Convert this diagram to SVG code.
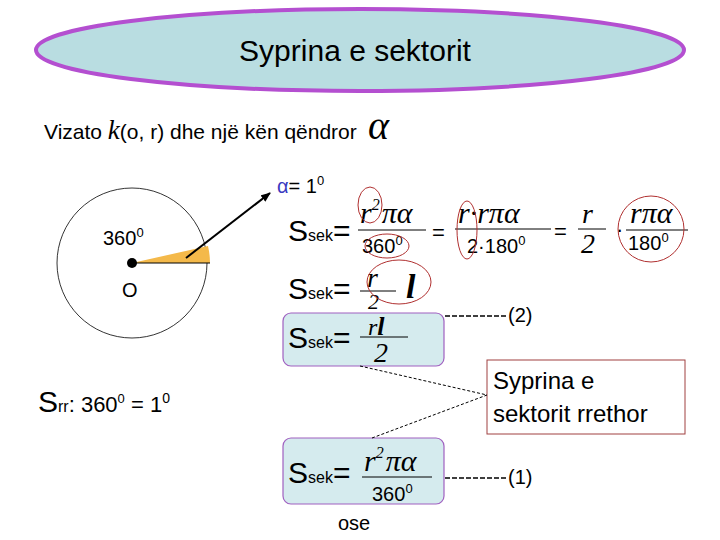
<svg xmlns="http://www.w3.org/2000/svg" width="720" height="540" viewBox="0 0 720 540">
<defs>
<style>
.s{font-family:"Liberation Sans",Arial,sans-serif;fill:#000}
.m{font-family:"Liberation Serif","Times New Roman",serif;font-style:italic;fill:#000}
.red{fill:none;stroke:#b03030;stroke-width:1}
.fl{stroke:#000;stroke-width:1}
.dash{stroke:#000;stroke-width:1;stroke-dasharray:3,2;fill:none}
.dl{stroke:#000;stroke-width:1.5;stroke-dasharray:5,2}
.box{fill:#d5ebee;stroke:#a060c0;stroke-width:1.2}
</style>
<marker id="ah" markerWidth="10" markerHeight="8" refX="9" refY="4" orient="auto" markerUnits="userSpaceOnUse"><path d="M0,0 L10,4 L0,8 Z" fill="#000"/></marker>
</defs>
<rect width="720" height="540" fill="#fff"/>
<g id="title">
<ellipse cx="360" cy="50" rx="324" ry="41" fill="#b9dde1" stroke="#b44fd0" stroke-width="4"/>
<text x="355" y="61" class="s" font-size="30" text-anchor="middle">Syprina e sektorit</text>
</g>
<g id="intro">
<text x="44" y="139" class="s" font-size="21">Vizato <tspan class="m" font-size="27">k</tspan>(o, r) dhe një kën qëndror</text>
<text x="368" y="139" class="m" font-size="40">α</text>
</g>
<g id="circle">
<circle cx="132" cy="263" r="75" fill="none" stroke="#000" stroke-width="0.8"/>
<path d="M132,263 L210,263 A78,78 0 0 0 208,246 Z" fill="#f4b94a"/>
<line x1="132" y1="263" x2="210" y2="263" stroke="#000" stroke-width="1"/>
<circle cx="132" cy="263" r="5" fill="#000"/>
<text x="103" y="245" class="s" font-size="20">360<tspan font-size="13" dy="-8">0</tspan></text>
<text x="122" y="297" class="s" font-size="20">O</text>
</g>
<g id="srr">
<text x="38" y="412" class="s" font-size="30">S<tspan font-size="16">rr</tspan><tspan font-size="22">: 360</tspan><tspan font-size="13" dy="-9">0</tspan><tspan font-size="22" dy="9"> = 1</tspan><tspan font-size="14" dy="-9">0</tspan></text>
</g>
<g id="alpha">
<text x="277" y="193" class="s" font-size="20"><tspan fill="#3a3ac0">α</tspan>= 1<tspan font-size="13" dy="-8">0</tspan></text>
</g>
<g id="row1">
<text x="288" y="241" class="s" font-size="30">S<tspan font-size="16">sek</tspan>=</text>
<text x="360" y="223" class="m" font-size="30">r<tspan font-size="16" dy="-13">2</tspan><tspan dy="13" dx="2">πα</tspan></text>
<line x1="358" y1="230" x2="426" y2="230" class="fl"/>
<text x="362" y="253" class="s" font-size="20">360<tspan font-size="13" dy="-8">0</tspan></text>
<ellipse cx="370" cy="205" rx="12" ry="18" class="red"/>
<ellipse cx="387" cy="246" rx="22" ry="12" class="red"/>
<text x="432" y="240" class="s" font-size="22">=</text>
<text x="458" y="223" class="m" font-size="30">r·rπα</text>
<line x1="455" y1="229" x2="551" y2="229" class="fl"/>
<text x="467" y="253" class="s" font-size="20">2·180<tspan font-size="13" dy="-8">0</tspan></text>
<ellipse cx="467" cy="230" rx="10" ry="29" class="red"/>
<text x="554" y="239" class="s" font-size="22">=</text>
<text x="582" y="223" class="m" font-size="28">r</text>
<line x1="578" y1="229" x2="606" y2="229" class="fl"/>
<text x="581" y="253" class="m" font-size="28">2</text>
<text x="616" y="237" class="s" font-size="22">·</text>
<text x="630" y="223" class="m" font-size="30">rπα</text>
<line x1="626" y1="230" x2="688" y2="230" class="fl"/>
<text x="628" y="250" class="s" font-size="20">180<tspan font-size="13" dy="-8">0</tspan></text>
<ellipse cx="651" cy="229" rx="33" ry="33" class="red"/>
</g>
<g id="row2">
<text x="288" y="299" class="s" font-size="30">S<tspan font-size="16">sek</tspan>=</text>
<text x="367" y="287" class="m" font-size="28">r</text>
<line x1="360" y1="291" x2="396" y2="291" class="fl"/>
<text x="368" y="309" class="m" font-size="22">2</text>
<text x="406" y="298" class="m" font-size="34" font-weight="bold">l</text>
<ellipse cx="399" cy="282" rx="32" ry="22" class="red"/>
</g>
<g id="box2">
<rect x="283" y="313" width="161" height="53" rx="8" class="box"/>
<text x="288" y="348" class="s" font-size="30">S<tspan font-size="16">sek</tspan>=</text>
<text x="368" y="335" class="m" font-size="24">r<tspan font-weight="bold" font-size="26">l</tspan></text>
<line x1="360" y1="337" x2="408" y2="337" class="fl"/>
<text x="374" y="362" class="m" font-size="28">2</text>
<line x1="445" y1="316" x2="507" y2="316" class="dl"/>
<text x="508" y="322" class="s" font-size="20">(2)</text>
</g>
<g id="label">
<rect x="487" y="360" width="198" height="74" fill="#fff" stroke="#a04040" stroke-width="1"/>
<text x="493" y="389" class="s" font-size="24">Syprina e</text>
<text x="493" y="422" class="s" font-size="24">sektorit rrethor</text>
</g>
<g id="box1">
<rect x="283" y="438" width="161" height="66" rx="8" class="box"/>
<text x="288" y="483" class="s" font-size="30">S<tspan font-size="16">sek</tspan>=</text>
<text x="364" y="471" class="m" font-size="30">r<tspan font-size="16" dy="-13">2</tspan><tspan dy="13" dx="2">πα</tspan></text>
<line x1="362" y1="477" x2="432" y2="477" class="fl"/>
<text x="372" y="501" class="s" font-size="20">360<tspan font-size="13" dy="-8">0</tspan></text>
<line x1="445" y1="478" x2="507" y2="478" class="dl"/>
<text x="508" y="484" class="s" font-size="20">(1)</text>
<text x="338" y="530" class="s" font-size="20">ose</text>
</g>
<g id="connectors">
<line x1="186" y1="258" x2="270" y2="193" stroke="#000" stroke-width="2" marker-end="url(#ah)"/>
<line x1="360" y1="366" x2="487" y2="395" class="dash"/>
<line x1="372" y1="438" x2="487" y2="395" class="dash"/>
</g>
</svg>
